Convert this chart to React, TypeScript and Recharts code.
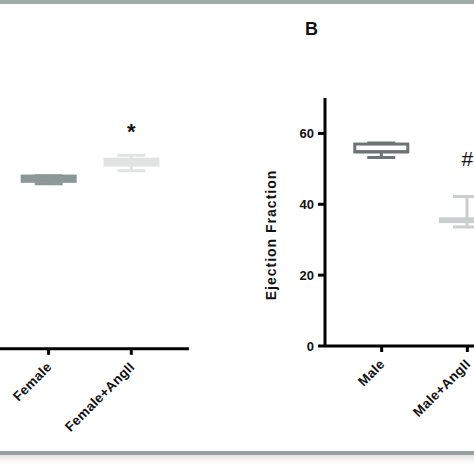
import React from "react";
import { ComposedChart, Bar, XAxis, YAxis, ReferenceDot } from "recharts";

// Left panel (y axis cut off at the left edge of the figure)
const femaleGroups = ["Female", "Female+AngII"];
const femaleMin = [46.8, 50.5];
const femaleQ1 = [47.5, 52.1];
const femaleMedian = [48.3, 53.0];
const femaleQ3 = [49.0, 53.8];
const femaleMax = [49.1, 54.9];

// Panel B
const maleGroups = ["Male", "Male+AngII"];
const maleMin = [53.2, 33.6];
const maleQ1 = [54.8, 35.1];
const maleMedian = [54.8, 35.5];
const maleQ3 = [57.0, 35.9];
const maleMax = [57.3, 42.2];

const yTicks = [0, 20, 40, 60];

// significance marks: category, y value of the glyph baseline, symbol
const femaleSig = [{ group: "Female+AngII", y: 59.4, mark: "*" }];
const maleSig = [{ group: "Male+AngII", y: 50.8, mark: "#" }];

const FONT = "'Liberation Sans', Arial, sans-serif";

type Style = { fill: string; stroke: string };

const femaleStyles: Style[] = [
  { fill: "#8b9896", stroke: "#8b9896" },
  { fill: "#e2e4e4", stroke: "#e2e4e4" },
];
const maleStyles: Style[] = [
  { fill: "#ffffff", stroke: "#6b7674" },
  { fill: "#c8cfce", stroke: "#c8cfce" },
];

function buildRows(
  groups: string[],
  min: number[],
  q1: number[],
  median: number[],
  q3: number[],
  max: number[]
) {
  return groups.map((name, i) => ({
    name,
    base: min[i],
    lowW: q1[i] - min[i],
    box: q3[i] - q1[i],
    highW: max[i] - q3[i],
    q1: q1[i],
    q3: q3[i],
    median: median[i],
  }));
}

const femaleRows = buildRows(femaleGroups, femaleMin, femaleQ1, femaleMedian, femaleQ3, femaleMax);
const maleRows = buildRows(maleGroups, maleMin, maleQ1, maleMedian, maleQ3, maleMax);

const CAP = 28;

const emptyShape = () => <g />;

const boxShape = (styles: Style[]) => (p: any) => {
  const s = styles[p.index];
  const { x, y, width, height, payload } = p;
  const span = payload.q3 - payload.q1;
  const my = span > 0 ? y + (height * (payload.q3 - payload.median)) / span : y;
  return (
    <g>
      <rect x={x} y={y} width={width} height={height} fill={s.fill} stroke={s.stroke} strokeWidth={3} />
      <line x1={x} x2={x + width} y1={my} y2={my} stroke={s.stroke} strokeWidth={3} />
    </g>
  );
};

// lower whisker: stem from q1 down to min, cap at min
const lowWhiskerShape = (styles: Style[]) => (p: any) => {
  const s = styles[p.index];
  const cx = p.x + p.width / 2;
  const yEnd = p.y + p.height;
  return (
    <g stroke={s.stroke} strokeWidth={3}>
      <line x1={cx} x2={cx} y1={p.y} y2={yEnd} />
      <line x1={cx - CAP / 2} x2={cx + CAP / 2} y1={yEnd} y2={yEnd} />
    </g>
  );
};

// upper whisker: stem from q3 up to max, cap at max
const highWhiskerShape = (styles: Style[]) => (p: any) => {
  const s = styles[p.index];
  const cx = p.x + p.width / 2;
  return (
    <g stroke={s.stroke} strokeWidth={3}>
      <line x1={cx} x2={cx} y1={p.y + p.height} y2={p.y} />
      <line x1={cx - CAP / 2} x2={cx + CAP / 2} y1={p.y} y2={p.y} />
    </g>
  );
};

const RotatedTick = (props: any) => {
  const { x, y, payload } = props;
  return (
    <g transform={`translate(${x + 4},${y + 11})`}>
      <text
        x={0}
        y={0}
        transform="rotate(-45)"
        textAnchor="end"
        fontFamily={FONT}
        fontWeight="bold"
        fontSize={13.5}
        letterSpacing={0.3}
        fill="#111"
      >
        {payload.value}
      </text>
    </g>
  );
};

const sigLabel = (mark: string, size: number, weight: string) => (props: any) => {
  const vb = props.viewBox || {};
  return (
    <text x={vb.x} y={vb.y} textAnchor="middle" fontFamily={FONT} fontSize={size} fontWeight={weight} fill="#111">
      {mark}
    </text>
  );
};

type PanelProps = {
  rows: any[];
  styles: Style[];
  sig: { group: string; y: number; mark: string }[];
  width: number;
  height: number;
  yWidth: number;
  pad: number;
  yLabel?: string;
  showYTicks: boolean;
  sigSize: number;
  sigWeight: string;
};

function BoxPanel({ rows, styles, sig, width, height, yWidth, pad, yLabel, showYTicks, sigSize, sigWeight }: PanelProps) {
  return (
    <ComposedChart width={width} height={height} data={rows} margin={{ top: 10, right: 5, bottom: 0, left: 0 }}>
      <XAxis
        dataKey="name"
        height={90}
        padding={{ left: pad, right: pad }}
        axisLine={{ stroke: "#000", strokeWidth: 3 }}
        tickLine={{ stroke: "#000", strokeWidth: 3 }}
        tickSize={6}
        interval={0}
        tick={<RotatedTick />}
      />
      <YAxis
        width={yWidth}
        domain={[0, 70]}
        ticks={yTicks}
        allowDataOverflow
        axisLine={{ stroke: "#000", strokeWidth: 3 }}
        tickLine={{ stroke: "#000", strokeWidth: 3 }}
        tickSize={7}
        tickMargin={4}
        tick={showYTicks ? { fill: "#111", fontSize: 13, fontWeight: "bold", fontFamily: FONT } : false}
        label={
          yLabel
            ? (props: any) => {
                const vb = props.viewBox || {};
                const cx = vb.x + 21;
                const cy = vb.y + vb.height / 2 + 13;
                return (
                  <text
                    x={cx}
                    y={cy}
                    transform={`rotate(-90, ${cx}, ${cy})`}
                    textAnchor="middle"
                    fontFamily={FONT}
                    fontWeight="bold"
                    fontSize={14}
                    letterSpacing={1}
                    fill="#111"
                  >
                    {yLabel}
                  </text>
                );
              }
            : undefined
        }
      />
      <Bar dataKey="base" stackId="b" barSize={53} shape={emptyShape} isAnimationActive={false} />
      <Bar dataKey="lowW" stackId="b" barSize={53} shape={lowWhiskerShape(styles)} isAnimationActive={false} />
      <Bar dataKey="box" stackId="b" barSize={53} shape={boxShape(styles)} isAnimationActive={false} />
      <Bar dataKey="highW" stackId="b" barSize={53} shape={highWhiskerShape(styles)} isAnimationActive={false} />
      {sig.map((s) => (
        <ReferenceDot
          key={s.group}
          x={s.group}
          y={s.y}
          r={0}
          stroke="none"
          fill="none"
          label={sigLabel(s.mark, sigSize, sigWeight)}
        />
      ))}
    </ComposedChart>
  );
}

export default function App() {
  return (
    <div
      style={{
        position: "fixed",
        left: 0,
        top: 0,
        width: 474,
        height: 474,
        overflow: "hidden",
        background: "#fff",
        fontFamily: FONT,
      }}
    >
      {/* figure frame */}
      <div style={{ position: "absolute", left: 0, top: 0, width: 474, height: 3.5, background: "#a0aaa9" }} />
      <div style={{ position: "absolute", left: 0, top: 451, width: 474, height: 4, background: "#97a3a1" }} />
      <div
        style={{
          position: "absolute",
          left: 0,
          top: 455,
          width: 474,
          height: 8,
          background: "linear-gradient(#e8e2e0, #ffffff)",
        }}
      />

      <div style={{ position: "absolute", left: -68.6, top: 91.5 }}>
        <BoxPanel
          rows={femaleRows}
          styles={femaleStyles}
          sig={femaleSig}
          width={262.9}
          height={346.8}
          yWidth={60}
          pad={16.2}
          showYTicks={false}
          sigSize={22}
          sigWeight="bold"
        />
      </div>

      <div
        style={{
          position: "absolute",
          left: 305,
          top: 19.8,
          fontSize: 18,
          lineHeight: "18px",
          fontWeight: "bold",
          color: "#111",
        }}
      >
        B
      </div>

      <div style={{ position: "absolute", left: 254.7, top: 87.7 }}>
        <BoxPanel
          rows={maleRows}
          styles={maleStyles}
          sig={maleSig}
          width={274}
          height={348}
          yWidth={70}
          pad={13.8}
          yLabel="Ejection Fraction"
          showYTicks={true}
          sigSize={21}
          sigWeight="normal"
        />
      </div>
    </div>
  );
}
